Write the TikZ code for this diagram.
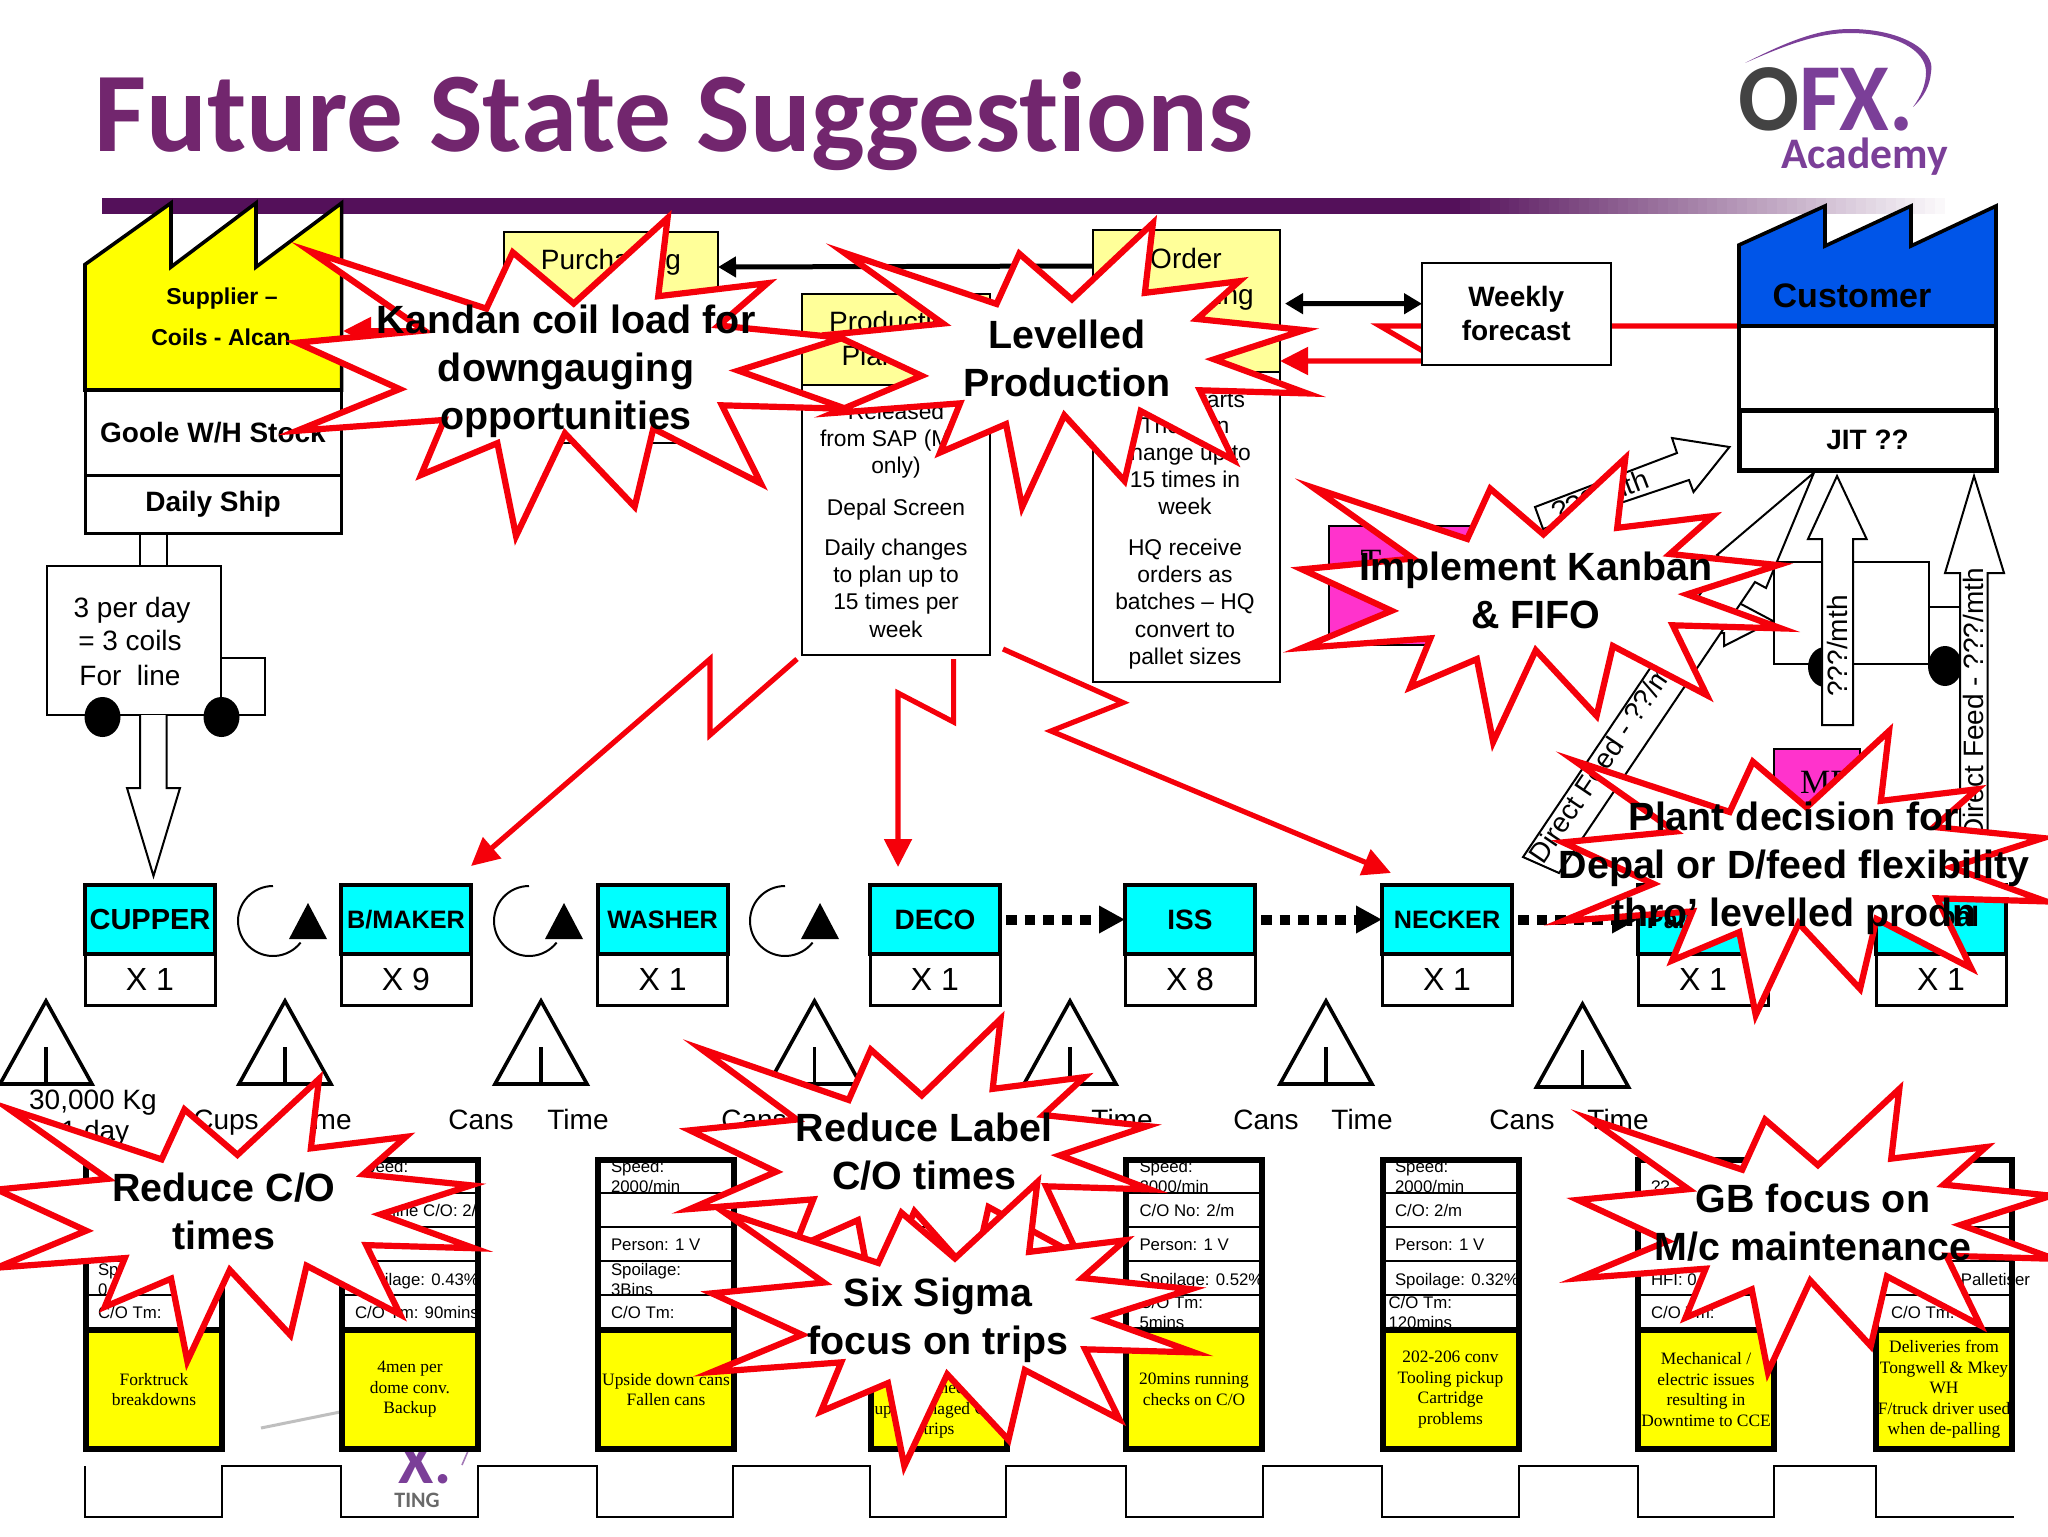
\documentclass[tikz,border=0pt]{standalone}
\usepackage{fontspec}
\setmainfont{Liberation Sans}
\newfontfamily\yserif{Liberation Serif}
\newfontfamily\ttlfont[Ligatures=NoCommon]{Carlito}
\usetikzlibrary{arrows.meta,calc}
\definecolor{ttlc}{HTML}{72266E}
\definecolor{barc}{HTML}{54105A}
\definecolor{logop}{HTML}{7B3F98}
\definecolor{logog}{HTML}{434343}
\definecolor{lighty}{HTML}{FFFF99}
\definecolor{pinkb}{HTML}{FF33CC}
\definecolor{blueb}{HTML}{0055E8}
\definecolor{redl}{HTML}{F5000A}
\definecolor{cyanb}{HTML}{00FFFF}
\definecolor{yellowb}{HTML}{FFFF00}
\newcount\tcount
\newcommand\tx[4][]{\global\advance\tcount by 1\relax\node[txt,#1] (t\the\tcount) at (#2,#3) {#4};}
\newcommand\rbox[7][draw]{%
 \pgfmathsetmacro\myw{(#5-#3)/2}\pgfmathsetmacro\myh{(#6-#4)/2}%
 \node[#1,minimum width=\myw pt,minimum height=\myh pt,inner sep=0pt,outer sep=0pt,anchor=north west,align=center] (#2) at (#3,#4) {#7};}
\newcommand\burst[5]{%
 \pgfmathsetmacro\myw{(#4-#2)/2}\pgfmathsetmacro\myh{(#5-#3)/2}%
 \begin{scope}[shift={(#2,#3)},x=\myw pt,y=-\myh pt]
 \draw[burstline] (.024,.105)--(.345,.285)--(.393,.108)--(.504,.269)--(.675,0)--(.658,.246)--(.857,.205)--(.768,.338)--(.994,.377)--(.804,.480)--(1,.600)--(.774,.589)--(.845,.835)--(.649,.662)--(.615,.908)--(.488,.677)--(.399,1)--(.365,.708)--(.226,.808)--(.268,.635)--(0,.669)--(.187,.538)--(0,.392)--(.232,.354)--cycle;
 \end{scope}}
\newcommand\proc[5]{% name,x0,label,font size,count
 \pgfmathsetmacro\xe{#2+130}%
 \rbox[procb]{#1}{#2}{885}{\xe}{954}{\fontsize{#4}{#4}\selectfont\bfseries #3}
 \rbox[procx]{#1x}{#2}{954}{\xe}{1005}{\fontsize{16}{16}\selectfont #5}}
\newcommand\dframe[2]{%
 \pgfmathsetmacro\xe{#2+136}%
 \rbox[dataf]{#1}{#2}{1160}{\xe}{1330}{}
 \foreach \yy in {1193,1227,1261,1295} {\draw[rowl] (#2,\yy) -- (\xe,\yy);}}
\newcommand\dyellow[3]{%
 \pgfmathsetmacro\xe{#2+136}%
 \rbox[datay]{#1}{#2}{1330}{\xe}{1449}{#3}}
\newcommand\dt[3]{\tx[anchor=west,dfont]{#1}{#2}{#3}}
\newcommand\pusharrow[1]{%
 \draw[pushl] plot[domain=90:322,samples=40,smooth] ({#1+35*cos(\x)},{921-35*sin(\x)});
 \fill ($(#1,921)+(35,-18)$) -- ++(19,36) -- ++(-38,0) -- cycle;}
\newcommand\invt[2][0]{%
 \draw[invl] (#2,1001+#1) -- (#2+46,1084+#1) -- (#2-46,1084+#1) -- cycle;
 \draw[invl] (#2,1047+#1) -- (#2,1082+#1);}
\tikzset{
 txt/.style={inner sep=0pt,outer sep=0pt,align=center},
 dfont/.style={font=\fontsize{8.4}{10}\selectfont,text height=7.1pt,text depth=1.7pt},
 f14/.style={font=\fontsize{14}{17}\selectfont,text height=12.3pt,text depth=2.9pt},
 f11/.style={font=\fontsize{11.4}{13.7}\selectfont,text height=10.8pt,text depth=2.4pt},
 b11/.style={font=\fontsize{11.5}{14}\selectfont\bfseries,text height=10.8pt,text depth=2.4pt},
 burstt/.style={txt,font=\fontsize{19.7}{24}\selectfont\bfseries},
 burstline/.style={draw=redl,fill=white,line width=3.1pt,line join=miter,miter limit=12},
 thinb/.style={draw=black,line width=1pt,fill=white},
 medb/.style={draw=black,line width=1.5pt,fill=white},
 lyb/.style={draw=black,line width=1pt,fill=lighty},
 procb/.style={draw=black,line width=2pt,fill=cyanb},
 procx/.style={draw=black,line width=1.5pt,fill=white},
 dataf/.style={draw=black,line width=3pt,fill=white},
 datay/.style={draw=black,line width=3pt,fill=yellowb,font=\fontsize{8.7}{10.3}\selectfont\yserif},
 rowl/.style={black,line width=1.2pt},
 pushl/.style={black,line width=1pt},
 invl/.style={black,line width=1.8pt,line join=miter},
 redc/.style={draw=redl,line width=2.6pt,line join=miter,-{Triangle[length=14pt,width=13.5pt]}},
 blkc/.style={draw=black,line width=2.5pt,-{Triangle[length=9pt,width=10pt]}},
 dots/.style={draw=black,line width=5pt,dash pattern=on 5.25pt off 4pt,-{Triangle[length=13pt,width=13pt]}},
 wshape/.style={draw=black,line width=1pt,fill=white,line join=miter},
}
\begin{document}
\begin{tikzpicture}[x=0.5pt,y=-0.5pt]
\useasboundingbox (0,0) rectangle (2048,1536);
\fill[white] (0,0) rectangle (2048,1536);
% title and logo
\node[anchor=base west,inner sep=0pt,text=ttlc,font=\fontsize{56.7}{60}\selectfont\ttlfont\bfseries] (title) at (94,151) {Future State Suggestions};
\fill[barc] (102,198) rectangle (1450,214);
\foreach \i in {0,...,49} {\pgfmathsetmacro\pp{100-97*\i/49}\fill[barc!\pp!white] ({1450+\i*9.9},198) rectangle ({1450+\i*9.9+10.2},214);}
\fill[logop] (1745,63) .. controls (1790,40) and (1820,29) .. (1850,29) .. controls (1900,29) and (1936,50) .. (1931,72) .. controls (1930,85) and (1924,97) .. (1913,107) .. controls (1921,96) and (1926,85) .. (1926,72) .. controls (1926,50) and (1895,33) .. (1850,33) .. controls (1820,33) and (1790,43) .. (1745,63) -- cycle;
\node[anchor=base west,inner sep=0pt,font=\fontsize{48}{48}\selectfont\ttlfont\bfseries] (ofx) at (1738,130) {\scalebox{.94}[1]{\textcolor{logog}{O}\textcolor{logop}{FX.}}};
\node[anchor=base west,inner sep=0pt,text=logop,font=\fontsize{21.8}{23}\selectfont\ttlfont\bfseries] (acad) at (1781,168) {Academy};
% watermark under boxes
\draw[gray!50,line width=1.5pt] (261,1428) -- (340,1412);
\node[anchor=base,inner sep=0pt,text=logop,font=\fontsize{32}{32}\selectfont\ttlfont\bfseries] (wmx) at (425,1483) {X.};
\node[anchor=base,inner sep=0pt,text=logog!80,font=\fontsize{11}{11}\selectfont\ttlfont\bfseries] (wmt) at (417,1507) {TING};
\draw[logop!70,line width=.8pt] (468,1451) -- (462,1465);
% supplier
\draw[line width=1.8pt,fill=yellowb,line join=miter] (85,264.5) -- (171,203) -- (171,267) -- (256,203) -- (256,267) -- (341.6,203) -- (341.6,390) -- (85,390) -- cycle;
\coordinate (supE) at (343,331);
\tx[b11]{222}{296}{Supplier –}
\tx[b11]{221}{337}{Coils - Alcan}
\rbox[medb]{goole}{85}{390}{341}{475}{\raisebox{-1pt}{\fontsize{14}{14}\selectfont\bfseries Goole W/H Stock}}
\rbox[medb]{ship}{85}{475}{341}{533}{\raisebox{-1pt}{\fontsize{14}{14}\selectfont\bfseries Daily Ship}}
% truck to cupper
\draw[thinb] (140,533) -- (140,566) (166.5,533) -- (166.5,566);
\rbox[thinb]{trucksm}{221}{658}{265}{715}{}
\rbox[thinb]{truck}{47}{566}{221}{715}{}
\tx[f14]{132}{608}{3 per day}
\tx[f14]{130}{641.5}{= 3 coils}
\tx[f14]{130}{676}{For\ \ line}
\fill (102.5,717) ellipse [x radius=18,y radius=20];
\fill (221.5,717) ellipse [x radius=18,y radius=20];
\draw[wshape] (140,715) -- (140,788) -- (127,788) -- (153.5,876) -- (180,788) -- (166.5,788) -- (166.5,715);
% office boxes
\rbox[lyb]{purch}{504}{232}{718}{340}{}
\rbox[thinb]{purchw}{504}{340}{718}{443}{}
\tx[f14]{611}{260}{Purchasing}
\rbox[lyb]{prod}{802}{294}{990}{385}{}
\rbox[thinb]{prodw}{802}{385}{990}{655}{}
\tx[f14]{896}{322}{Production}
\tx[f14]{896}{356}{Planning}
\foreach \yy/\ttx in {411/Released,438/from SAP (M-F,465/only),507/Depal Screen,547/Daily changes,574/to plan up to,601/15 times per,629/week}
 {\node[txt,f11] (pl\yy) at (896,\yy) {\ttx};}
\rbox[lyb]{order}{1092.6}{230}{1280}{372}{}
\rbox[thinb]{orderw}{1092.6}{372}{1280}{682}{}
\tx[f14]{1186}{259}{Order}
\tx[f14]{1186}{295}{processing}
\foreach \yy/\ttx in {399/Week starts,425/The plan,452/change up to,479/15 times in,506/week,547/HQ receive,574/orders as,601/batches – HQ,629/convert to,656/pallet sizes}
 {\node[txt,f11] (ol\yy) at (1185,\yy) {\ttx};}
\coordinate (custW) at (1739,326);
\coordinate (redmid1) at (1380,326);
\coordinate (redmid2) at (1440,361);
\draw[redc] (custW) -- (redmid1) -- (redmid2) -- ([yshift=-30pt]order.east);
\rbox[thinb,font=\fontsize{14}{17}\selectfont\bfseries]{weekly}{1422}{262.5}{1610.5}{365}{Weekly\\forecast}
\draw[blkc] ([yshift=17.5pt]order.west) -- ([yshift=9.5pt]purch.east);
\draw[draw=black,line width=2.5pt,{Triangle[length=9pt,width=10pt]}-{Triangle[length=9pt,width=10pt]}] ([yshift=-1.3pt,xshift=2.5pt]order.east) -- ([yshift=5pt]weekly.west);
\draw[redc] (purch.west |- supE) -- (supE);
% customer
\draw[line width=1.8pt,fill=blueb,line join=miter] (1739,326) -- (1739,245) -- (1825,206) -- (1825,246) -- (1911,206) -- (1911,246) -- (1996,206) -- (1996,326) -- cycle;
\tx[font=\fontsize{17}{17}\selectfont\bfseries]{1852}{296}{Customer}
\rbox[draw=black,line width=2.2pt,fill=white]{custm}{1739}{326}{1996}{410}{}
\rbox[draw=black,line width=2.5pt,fill=white]{jit}{1739}{410}{1996}{470}{\fontsize{14}{14}\selectfont\bfseries JIT ??}
% pink boxes
\rbox[draw=black,line width=1pt,fill=pinkb]{pink1}{1329}{526}{1470}{645}{}
\tx[font=\fontsize{17}{17}\selectfont\yserif]{1371}{561}{T}
\rbox[draw=black,line width=1pt,fill=pinkb]{pink2}{1774}{749}{1860}{850}{}
\tx[anchor=west,font=\fontsize{17}{17}\selectfont\yserif]{1800}{782}{MP}
% truck 2
\rbox[thinb]{truckb}{1774}{562}{1929}{664}{}
\rbox[thinb]{trucksb}{1929}{607}{1960}{664}{}
\fill (1825,667) ellipse [x radius=17,y radius=20];
\fill (1945,666) ellipse [x radius=17,y radius=20];
% white arrows
\draw[wshape] (1535,507) -- (1677,453) -- (1672,438) -- (1729.4,447) -- (1693.5,492) -- (1689,480) -- (1543,529) -- cycle;
\tx[f14,rotate=21]{1600}{496}{???/mth}
\draw[wshape] (1660,607) -- (1724,607) -- (1724,595) -- (1773,621) -- (1724,646) -- (1724,633) -- (1660,633) -- cycle;
\draw[wshape] (1814,472.6) -- (1766,588) -- (1755,582) -- (1559,873) -- (1523,857) -- (1723,560) -- (1717,555) -- cycle;
\tx[f14,rotate=56,anchor=west]{1536}{860}{Direct Feed - ??/mth}
\draw[wshape] (1837,476) -- (1866.6,539) -- (1853,539) -- (1853,725) -- (1822,725) -- (1822,539) -- (1808,539) -- cycle;
\tx[f14,rotate=90]{1838}{646}{???/mth}
\draw[wshape] (1974,476) -- (2004,573) -- (1987.5,573) -- (1987.5,845) -- (1960,845) -- (1960,573) -- (1945,573) -- cycle;
\tx[f14,rotate=90,anchor=east]{1974}{568}{Direct Feed - ???/mth}
% process boxes
\proc{cupper}{85}{CUPPER}{14.5}{X 1}
\proc{bmaker}{341}{B/MAKER}{12.6}{X 9}
\proc{washer}{597.6}{WASHER}{12.6}{X 1}
\proc{deco}{870}{DECO}{14}{X 1}
\proc{iss}{1125}{ISS}{14}{X 8}
\proc{necker}{1382}{NECKER}{12.6}{X 1}
\proc{pala}{1638}{Palletiser}{12.6}{X 1}
\proc{depal}{1876}{Depal}{14}{X 1}
% red connectors
\coordinate (za) at (797,659); \coordinate (zb) at (710,735); \coordinate (zc) at (710,659);
\coordinate (zd) at (953.6,659); \coordinate (ze) at (953.6,722); \coordinate (zf) at (898,693);
\coordinate (zg) at (1003,649); \coordinate (zh) at (1123,702.6); \coordinate (zi) at (1051,731);
\draw[redc] (za) -- (zb) -- (zc) -- ([yshift=9.5pt]bmaker.north east);
\draw[redc] (zd) -- (ze) -- (zf) -- ([yshift=9pt,xshift=-18.5pt]deco.north);
\draw[redc] (zg) -- (zh) -- (zi) -- ([yshift=6pt,xshift=4.5pt]necker.north west);
\draw[dots] ([xshift=3pt]deco.east) -- (iss.west);
\draw[dots] ([xshift=3pt]iss.east) -- (necker.west);
\draw[dots] ([xshift=3pt]necker.east) -- (pala.west);
\pusharrow{273}
\pusharrow{529}
\pusharrow{785}
% inventory triangles
\invt{46}\invt{285}\invt{541}\invt{814.5}\invt{1070}\invt{1326}\invt[3]{1582.5}
\tx[f14]{93}{1100}{30,000 Kg}
\tx[f14]{95}{1131}{1 day}
\tx[f14]{226}{1120}{Cups}\tx[f14]{321}{1120}{Time}
\tx[f14]{481}{1120}{Cans}\tx[f14]{578}{1120}{Time}
\tx[f14]{754}{1120}{Cans}\tx[f14]{1122}{1120}{Time}
\tx[f14]{1266}{1120}{Cans}\tx[f14]{1362}{1120}{Time}
\tx[f14]{1522}{1120}{Cans}\tx[f14]{1618}{1120}{Time}
% data boxes
\dframe{d1}{86}
\dt{98}{1270}{Spoilage:}\dt{98}{1290}{0}\dt{98}{1313}{C/O Tm:}
\dyellow{d1y}{86}{Forktruck\\breakdowns}
\dframe{d2}{342}
\dt{355}{1167}{Speed:}\dt{355}{1211}{Machine C/O: 2/m}\dt{355}{1280}{Spoilage: 0.43\%}\dt{355}{1313}{C/O Tm: 90mins}
\fill[white] (480,1195) rectangle (500,1226);
\draw[black,line width=3pt] (478,1160) -- (478,1330);
\dyellow{d2y}{342}{4men per\\dome conv.\\Backup}
\dframe{d3}{598}
\dt{611}{1167}{Speed:}\dt{611}{1187}{2000/min}\dt{611}{1245}{Person: 1 V}\dt{611}{1270}{Spoilage:}\dt{611}{1290}{3Bins}\dt{611}{1313}{C/O Tm:}
\dyellow{d3y}{598}{Upside down cans\\Fallen cans}
\dframe{d4}{871}
\dt{884}{1245}{Person: 1 V}
\dyellow{d4y}{871}{Label\\machine\\jammed,\\ups, damaged C/O\\trips}
\dframe{d5}{1126}
\dt{1139.5}{1167}{Speed:}\dt{1139.5}{1187}{2000/min}\dt{1139.5}{1211}{C/O No: 2/m}\dt{1139.5}{1245}{Person: 1 V}\dt{1139.5}{1280}{Spoilage: 0.52\%}\dt{1139.5}{1303}{C/O Tm:}\dt{1139.5}{1323}{5mins}
\dyellow{d5y}{1126}{20mins running\\checks on C/O}
\dframe{d6}{1382.5}
\dt{1395}{1167}{Speed:}\dt{1395}{1187}{2000/min}\dt{1395}{1211}{C/O: 2/m}\dt{1395}{1245}{Person: 1 V}\dt{1395}{1280}{Spoilage: 0.32\%}\dt{1388.5}{1303}{C/O Tm:}\dt{1388.5}{1323}{120mins}
\dyellow{d6y}{1382.5}{202-206 conv\\Tooling pickup\\Cartridge\\problems}
\dframe{d7}{1638}
\dt{1651}{1187}{??}\dt{1651}{1280}{HFI: 0}\dt{1651}{1313}{C/O Tm:}
\dyellow{d7y}{1638}{Mechanical /\\electric issues\\resulting in\\Downtime to CCE}
\dframe{d8}{1876}
\tx[anchor=east,dfont]{2030}{1280}{Palletiser}\dt{1891}{1313}{C/O Tm:}
\dyellow{d8y}{1876}{Deliveries from\\Tongwell \& Mkey\\WH\\F/truck driver used\\when de-palling}
% timeline
\draw[black,line width=1pt] (85,1466) -- (85,1517) -- (222,1517) -- (222,1466) -- (341,1466) -- (341,1517) -- (478,1517) -- (478,1466) -- (597,1466) -- (597,1517) -- (733,1517) -- (733,1466) -- (870,1466) -- (870,1517) -- (1006,1517) -- (1006,1466) -- (1126,1466) -- (1126,1517) -- (1263,1517) -- (1263,1466) -- (1382,1466) -- (1382,1517) -- (1519,1517) -- (1519,1466) -- (1638,1466) -- (1638,1517) -- (1774,1517) -- (1774,1466) -- (1876,1466) -- (1876,1517) -- (2014,1517);
% bursts
\burst{k}{297}{218}{846}{536}
\burst{l}{833}{223}{1307}{507}
\burst{i}{1302}{458}{1781}{742}
\burst{p}{1563}{731}{2046}{1015}
\burst{r}{-3}{1079}{474}{1361}
\burst{b}{690}{1019}{1150}{1303}
\burst{s}{712}{1182}{1194}{1466}
\burst{g}{1578}{1089}{2054}{1372}
\node[burstt] (bk) at (566,371) {Kandan coil load for\\downgauging\\opportunities};
\node[burstt] (bl) at (1067,358) {Levelled\\Production};
\node[burstt] (bi) at (1536,590) {Implement Kanban\\\& FIFO};
\node[burstt] (bp) at (1794,868) {Plant decision for\\Depal or D/feed flexibility\\thro’ levelled prodn};
\node[burstt] (br) at (224,1211) {Reduce C/O\\times};
\node[burstt] (bb) at (924,1152) {Reduce Label\\C/O times};
\node[burstt] (bs) at (938,1320) {Six Sigma\\focus on trips};
\node[burstt] (bg) at (1813,1223) {GB focus on\\M/c maintenance};
\end{tikzpicture}
\end{document}
